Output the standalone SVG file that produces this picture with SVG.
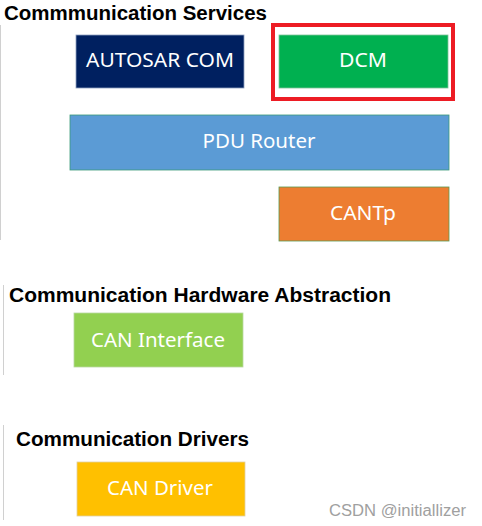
<svg xmlns="http://www.w3.org/2000/svg" width="482" height="526" viewBox="0 0 482 526">
<style>
.title{font-family:"Liberation Sans",Arial,sans-serif;font-weight:bold;font-size:20px;fill:#000}
.lbl{font-family:"Noto Sans","Liberation Sans",sans-serif;font-size:20px;fill:#fff;text-anchor:middle}
.sep{stroke:#d0d0d0;stroke-width:1}
</style>
<rect width="482" height="526" fill="#fff"/>
<line class="sep" x1="0.5" y1="25" x2="0.5" y2="240"/>
<line class="sep" x1="3.5" y1="285" x2="3.5" y2="375"/>
<line class="sep" x1="3.5" y1="425" x2="3.5" y2="520"/>
<text class="title" x="4" y="20" textLength="263" lengthAdjust="spacingAndGlyphs">Commmunication Services</text>
<text class="title" x="9" y="302" textLength="382" lengthAdjust="spacingAndGlyphs">Communication Hardware Abstraction</text>
<text class="title" x="16" y="446" textLength="233" lengthAdjust="spacingAndGlyphs">Communication Drivers</text>
<g id="autosar-com">
<rect x="76" y="35" width="168" height="53" fill="#002060" stroke="#8fa0c0" stroke-width="0.8"/>
<text class="lbl" x="160" y="67" textLength="148" lengthAdjust="spacingAndGlyphs">AUTOSAR COM</text>
</g>
<g id="dcm">
<rect x="279" y="35" width="169" height="53" fill="#00b050" stroke="#7fc49a" stroke-width="0.8"/>
<text class="lbl" x="363" y="67" textLength="48" lengthAdjust="spacingAndGlyphs">DCM</text>
<rect x="273" y="25" width="180" height="74" fill="none" stroke="#ed1c24" stroke-width="4"/>
</g>
<g id="pdu-router">
<rect x="70" y="115" width="379" height="55" fill="#5b9bd5" stroke="#3a9a78" stroke-width="0.8"/>
<text class="lbl" x="259" y="148" textLength="113" lengthAdjust="spacingAndGlyphs">PDU Router</text>
</g>
<g id="cantp">
<rect x="279" y="187" width="170" height="54" fill="#ed7d31" stroke="#5a9a50" stroke-width="0.8"/>
<text class="lbl" x="363" y="220" textLength="66" lengthAdjust="spacingAndGlyphs">CANTp</text>
</g>
<g id="can-interface">
<rect x="74" y="313" width="169" height="54" fill="#92d050" stroke="#b8d8a0" stroke-width="0.8"/>
<text class="lbl" x="158" y="347" textLength="134" lengthAdjust="spacingAndGlyphs">CAN Interface</text>
</g>
<g id="can-driver">
<rect x="77" y="462" width="168" height="54" fill="#ffc000" stroke="#e0d0a0" stroke-width="0.8"/>
<text class="lbl" x="160" y="495" textLength="106" lengthAdjust="spacingAndGlyphs">CAN Driver</text>
</g>
<g id="connectors"></g>
<text x="329" y="516" font-family="Liberation Sans,Arial,sans-serif" font-size="16" fill="#a0a0a0" textLength="137" lengthAdjust="spacingAndGlyphs">CSDN @initiallizer</text>
</svg>
